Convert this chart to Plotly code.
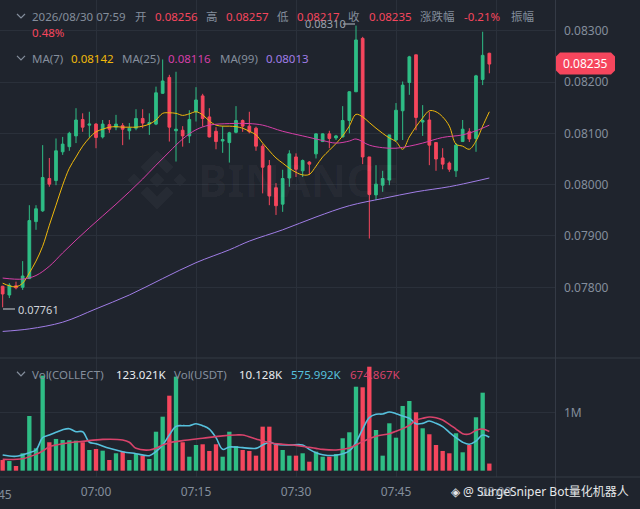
import plotly.graph_objects as go

day = "2026-08-30 "
times = ["06:46", "06:47", "06:48", "06:49", "06:50", "06:51", "06:52", "06:53", "06:54", "06:55",
         "06:56", "06:57", "06:58", "06:59", "07:00", "07:01", "07:02", "07:03", "07:04", "07:05",
         "07:06", "07:07", "07:08", "07:09", "07:10", "07:11", "07:12", "07:13", "07:14", "07:15",
         "07:16", "07:17", "07:18", "07:19", "07:20", "07:21", "07:22", "07:23", "07:24", "07:25",
         "07:26", "07:27", "07:28", "07:29", "07:30", "07:31", "07:32", "07:33", "07:34", "07:35",
         "07:36", "07:37", "07:38", "07:39", "07:40", "07:41", "07:42", "07:43", "07:44", "07:45",
         "07:46", "07:47", "07:48", "07:49", "07:50", "07:51", "07:52", "07:53", "07:54", "07:55",
         "07:56", "07:57", "07:58", "07:59"]

open_ = [0.07802, 0.07785, 0.07803, 0.07800, 0.07817, 0.07928, 0.07949, 0.08012, 0.08008, 0.08064,
         0.08074, 0.08095, 0.08127, 0.08116, 0.08118, 0.08093, 0.08117, 0.08112, 0.08115, 0.08105,
         0.08110, 0.08129, 0.08118, 0.08118, 0.08178, 0.08209, 0.08105, 0.08106, 0.08095, 0.08142,
         0.08173, 0.08132, 0.08104, 0.08085, 0.08082, 0.08102, 0.08125, 0.08114, 0.08110, 0.08075,
         0.08037, 0.07994, 0.07962, 0.08013, 0.08054, 0.08027, 0.08044, 0.08060, 0.08084, 0.08099,
         0.08091, 0.08093, 0.08125, 0.08181, 0.08285, 0.08054, 0.07980, 0.07999, 0.08009, 0.08087,
         0.08144, 0.08199, 0.08253, 0.08122, 0.08126, 0.08082, 0.08052, 0.08042, 0.08027, 0.08084,
         0.08103, 0.08090, 0.08205, 0.08256]
high = [0.07803, 0.07808, 0.07811, 0.07851, 0.07960, 0.07960, 0.08077, 0.08052, 0.08090, 0.08093,
        0.08103, 0.08149, 0.08139, 0.08142, 0.08120, 0.08126, 0.08126, 0.08136, 0.08120, 0.08120,
        0.08147, 0.08147, 0.08139, 0.08191, 0.08244, 0.08214, 0.08220, 0.08114, 0.08145, 0.08190,
        0.08177, 0.08149, 0.08112, 0.08114, 0.08103, 0.08153, 0.08127, 0.08142, 0.08113, 0.08079,
        0.08048, 0.08003, 0.08029, 0.08067, 0.08061, 0.08049, 0.08046, 0.08100, 0.08100, 0.08105,
        0.08097, 0.08153, 0.08182, 0.08310, 0.08288, 0.08054, 0.08038, 0.08027, 0.08097, 0.08159,
        0.08201, 0.08251, 0.08253, 0.08155, 0.08142, 0.08082, 0.08071, 0.08045, 0.08081, 0.08126,
        0.08110, 0.08214, 0.08298, 0.08257]
low = [0.07761, 0.07779, 0.07796, 0.07795, 0.07816, 0.07912, 0.07947, 0.07996, 0.07999, 0.08058,
       0.08066, 0.08081, 0.08103, 0.08092, 0.08071, 0.08090, 0.08101, 0.08106, 0.08077, 0.08088,
       0.08106, 0.08110, 0.08097, 0.08116, 0.08177, 0.08084, 0.08045, 0.08074, 0.08081, 0.08123,
       0.08113, 0.08092, 0.08069, 0.08062, 0.08043, 0.08100, 0.08103, 0.08100, 0.08066, 0.07983,
       0.07960, 0.07941, 0.07947, 0.07996, 0.08015, 0.08015, 0.08019, 0.08051, 0.08083, 0.08071,
       0.08087, 0.08092, 0.08100, 0.08181, 0.08040, 0.07895, 0.07970, 0.07986, 0.07999, 0.08084,
       0.08087, 0.08175, 0.08106, 0.08095, 0.08038, 0.08027, 0.08030, 0.08025, 0.08015, 0.08084,
       0.08083, 0.08064, 0.08194, 0.08217]
close = [0.07787, 0.07804, 0.07799, 0.07822, 0.07930, 0.07953, 0.08014, 0.08001, 0.08066, 0.08079,
         0.08100, 0.08126, 0.08112, 0.08118, 0.08092, 0.08118, 0.08108, 0.08118, 0.08108, 0.08110,
         0.08129, 0.08120, 0.08121, 0.08179, 0.08202, 0.08112, 0.08108, 0.08095, 0.08127, 0.08165,
         0.08129, 0.08093, 0.08084, 0.08088, 0.08101, 0.08125, 0.08114, 0.08103, 0.08075, 0.08034,
         0.07978, 0.07959, 0.08012, 0.08060, 0.08030, 0.08047, 0.08040, 0.08099, 0.08099, 0.08090,
         0.08095, 0.08125, 0.08181, 0.08282, 0.08054, 0.07981, 0.08001, 0.08012, 0.08097, 0.08145,
         0.08194, 0.08249, 0.08131, 0.08125, 0.08077, 0.08050, 0.08040, 0.08030, 0.08077, 0.08108,
         0.08089, 0.08212, 0.08252, 0.08235]

ma7 = [0.07808, 0.07803, 0.07801, 0.07808, 0.07828, 0.07851, 0.07880, 0.07921, 0.07960, 0.07999,
       0.08032, 0.08054, 0.08075, 0.08091, 0.08103, 0.08108, 0.08112, 0.08113, 0.08112, 0.08112,
       0.08112, 0.08114, 0.08118, 0.08126, 0.08139, 0.08140, 0.08139, 0.08135, 0.08138, 0.08142,
       0.08136, 0.08124, 0.08116, 0.08114, 0.08114, 0.08113, 0.08110, 0.08104, 0.08097, 0.08081,
       0.08066, 0.08052, 0.08042, 0.08032, 0.08024, 0.08019, 0.08020, 0.08036, 0.08054, 0.08067,
       0.08080, 0.08095, 0.08114, 0.08137, 0.08132, 0.08121, 0.08110, 0.08100, 0.08091, 0.08084,
       0.08069, 0.08093, 0.08113, 0.08130, 0.08144, 0.08142, 0.08132, 0.08114, 0.08079, 0.08075,
       0.08069, 0.08085, 0.08114, 0.08142]

ma25_at = ["06:46", "06:49", "06:51", "06:53", "06:55", "06:57", "06:59", "07:01", "07:03", "07:05",
           "07:07", "07:09", "07:11", "07:13", "07:15", "07:17", "07:20", "07:23", "07:25", "07:28",
           "07:31", "07:34", "07:36", "07:38", "07:39", "07:41", "07:43", "07:45", "07:47", "07:49",
           "07:52", "07:55", "07:57", "07:59"]
ma25 = [0.07818, 0.07816, 0.07823, 0.07841, 0.07867, 0.07892, 0.07916, 0.07939, 0.07962, 0.07986,
        0.08011, 0.08038, 0.08064, 0.08089, 0.08107, 0.08116, 0.08119, 0.08119, 0.08116, 0.08104,
        0.08095, 0.08086, 0.08081, 0.08085, 0.08089, 0.08077, 0.08072, 0.08071, 0.08075, 0.08081,
        0.08092, 0.08097, 0.08105, 0.08116]

ma99_at = ["06:46", "06:50", "06:55", "07:00", "07:05", "07:10", "07:15", "07:20", "07:23", "07:28",
           "07:33", "07:38", "07:43", "07:48", "07:53", "07:57", "07:59"]
ma99 = [0.07714, 0.07719, 0.07732, 0.07758, 0.07785, 0.07817, 0.07848, 0.07873, 0.07890, 0.07912,
        0.07937, 0.07959, 0.07973, 0.07986, 0.07996, 0.08007, 0.08013]

# volume in thousands (COLLECT)
vol_k = [184, 167, 81, 300, 943, 386, 1638, 490, 547, 529,
         524, 518, 490, 357, 374, 345, 184, 300, 328, 184,
         288, 259, 202, 672, 931, 1293, 1621, 490, 241, 443,
         455, 340, 455, 241, 672, 426, 357, 340, 259, 759,
         759, 443, 357, 259, 259, 300, 155, 328, 241, 241,
         288, 559, 662, 1448, 1438, 1793, 702, 259, 817, 569,
         1116, 1202, 1007, 731, 628, 443, 340, 300, 645, 317,
         443, 921, 1345, 123]

vma5_at = ["06:46", "06:48", "06:50", "06:51", "06:52", "06:53", "06:54", "06:55", "06:56", "06:57",
           "06:58", "06:59", "07:00", "07:02", "07:04", "07:06", "07:08", "07:09", "07:10", "07:11",
           "07:12", "07:13", "07:14", "07:15", "07:16", "07:17", "07:18", "07:19", "07:20", "07:22",
           "07:24", "07:25", "07:26", "07:27", "07:29", "07:31", "07:32", "07:33", "07:34", "07:36",
           "07:38", "07:39", "07:40", "07:41", "07:42", "07:43", "07:44", "07:45", "07:46", "07:47",
           "07:48", "07:49", "07:50", "07:51", "07:52", "07:53", "07:54", "07:55", "07:56", "07:57",
           "07:58", "07:59"]
vma5 = [271, 248, 310, 357, 569, 615, 662, 707, 724, 672,
        672, 490, 466, 385, 328, 293, 259, 328, 443, 615,
        764, 776, 776, 810, 776, 718, 569, 368, 408, 397,
        385, 443, 490, 455, 443, 443, 368, 310, 276, 265,
        340, 490, 718, 914, 972, 978, 1012, 983, 943, 903,
        810, 816, 856, 816, 759, 662, 569, 490, 455, 512,
        615, 576]

vma10_at = ["06:46", "06:49", "06:51", "06:52", "06:53", "06:54", "06:56", "06:58", "07:01", "07:04",
            "07:05", "07:06", "07:08", "07:09", "07:10", "07:11", "07:13", "07:16", "07:19", "07:21",
            "07:22", "07:24", "07:25", "07:26", "07:28", "07:30", "07:32", "07:33", "07:34", "07:36",
            "07:38", "07:40", "07:42", "07:44", "07:45", "07:47", "07:48", "07:49", "07:50", "07:51",
            "07:52", "07:53", "07:54", "07:55", "07:56", "07:57", "07:58", "07:59"]
vma10 = [195, 207, 282, 340, 414, 443, 483, 506, 540, 529,
         490, 385, 357, 385, 443, 483, 518, 559, 600, 615,
         615, 547, 512, 483, 455, 437, 402, 385, 368, 357,
         391, 501, 592, 638, 678, 782, 874, 903, 926, 914,
         874, 799, 718, 638, 632, 695, 718, 675]

time_ticks = ["07:00", "07:15", "07:30", "07:45", "08:00"]
price_ticks = [0.07800, 0.07900, 0.08000, 0.08100, 0.08200, 0.08300]

UP = "#2ebd85"
DOWN = "#f6465d"
BG = "#1f242d"
GRID = "#2a303a"
EDGE = "#343a45"
GREY = "#848e9c"
FONT = "Noto Sans, Noto Sans CJK SC, sans-serif"

# pixel helpers: plot area is 555 x 477 px
W, H = 555.0, 477.0


def X(p):
    return p / W


def Y(p):
    return (H - p) / H


def path(points, close_it=True):
    s = "M " + " L ".join("%.5f,%.5f" % (X(a), Y(b)) for a, b in points)
    return s + (" Z" if close_it else "")


xt = [day + t for t in times]

fig = go.Figure()

fig.add_trace(go.Candlestick(
    x=xt, open=open_, high=high, low=low, close=close,
    increasing=dict(line=dict(color=UP, width=1), fillcolor=UP),
    decreasing=dict(line=dict(color=DOWN, width=1), fillcolor=DOWN),
    whiskerwidth=0, showlegend=False, hoverinfo="skip", yaxis="y"))

fig.add_trace(go.Scatter(x=xt, y=ma7, mode="lines", line=dict(color="#f0b90b", width=1, shape="spline"),
                         showlegend=False, hoverinfo="skip", yaxis="y"))
fig.add_trace(go.Scatter(x=[day + t for t in ma25_at], y=ma25, mode="lines",
                         line=dict(color="#d63fa8", width=1, shape="spline"),
                         showlegend=False, hoverinfo="skip", yaxis="y"))
fig.add_trace(go.Scatter(x=[day + t for t in ma99_at], y=ma99, mode="lines",
                         line=dict(color="#a07de6", width=1, shape="spline"),
                         showlegend=False, hoverinfo="skip", yaxis="y"))

bar_colors = [UP if c >= o else DOWN for o, c in zip(open_, close)]
fig.add_trace(go.Bar(x=xt, y=vol_k, marker=dict(color=bar_colors, line=dict(width=0)),
                     showlegend=False, hoverinfo="skip", yaxis="y2"))
fig.add_trace(go.Scatter(x=[day + t for t in vma5_at], y=vma5, mode="lines",
                         line=dict(color="#56c0dc", width=1.6, shape="spline"),
                         showlegend=False, hoverinfo="skip", yaxis="y2"))
fig.add_trace(go.Scatter(x=[day + t for t in vma10_at], y=vma10, mode="lines",
                         line=dict(color="#d8436b", width=1.6, shape="spline"),
                         showlegend=False, hoverinfo="skip", yaxis="y2"))

split = (H - 358) / H

fig.update_layout(
    width=640, height=509,
    margin=dict(l=0, r=85, t=0, b=32),
    paper_bgcolor=BG, plot_bgcolor=BG,
    font=dict(family=FONT, size=12, color=GREY),
    boxgap=0.42, bargap=0.35,
    xaxis=dict(type="date", anchor="y2",
               range=[day + "06:45:36", day + "08:08:51"],
               tickvals=[day + t for t in time_ticks], ticktext=time_ticks,
               showgrid=True, gridcolor=GRID, gridwidth=1, zeroline=False,
               showline=False, ticks="", ticklabelstandoff=6,
               tickfont=dict(size=12, color=GREY),
               rangeslider=dict(visible=False), fixedrange=True),
    yaxis=dict(domain=[split, 1], side="right",
               range=[0.0766223, 0.0835982],
               tickvals=price_ticks, ticktext=["%.5f" % v for v in price_ticks],
               showgrid=True, gridcolor=GRID, zeroline=False, showline=False,
               ticks="", ticklabelstandoff=8, tickfont=dict(size=12, color=GREY)),
    yaxis2=dict(domain=[0, split], side="right",
                range=[-109, 1943],
                tickvals=[1000], ticktext=["1M"],
                showgrid=True, gridcolor=GRID, zeroline=False, showline=False,
                ticks="", ticklabelstandoff=8, tickfont=dict(size=12, color=GREY)),
)

shapes = []
# panel frame lines
shapes.append(dict(type="line", xref="paper", yref="paper", x0=0, x1=X(640), y0=Y(358), y1=Y(358),
                   line=dict(color=EDGE, width=1)))
shapes.append(dict(type="line", xref="paper", yref="paper", x0=0, x1=X(640), y0=Y(477), y1=Y(477),
                   line=dict(color=EDGE, width=1)))
shapes.append(dict(type="line", xref="paper", yref="paper", x0=X(555.5), x1=X(555.5), y0=Y(509), y1=1,
                   line=dict(color=EDGE, width=1)))

# binance watermark logo
cx, cy, k = 157, 180, 0.82
logo = [
    [(0, -9), (9, 0), (0, 9), (-9, 0)],
    [(-28, -8), (-20, 0), (-28, 8), (-36, 0)],
    [(28, -8), (36, 0), (28, 8), (20, 0)],
    [(0, -36), (20, -16), (12, -8), (0, -20), (-12, -8), (-20, -16)],
    [(0, 36), (20, 16), (12, 8), (0, 20), (-12, 8), (-20, 16)],
]
for poly in logo:
    shapes.append(dict(type="path", xref="paper", yref="paper", layer="below",
                       path=path([(cx + k * a, cy + k * b) for a, b in poly]),
                       fillcolor="rgba(255,255,255,0.035)", line=dict(width=0)))

# chevrons
for yy in (16.5, 58.3, 374.3):
    shapes.append(dict(type="path", xref="paper", yref="paper",
                       path=path([(17, yy - 2.5), (21, yy + 1.5), (25, yy - 2.5)], close_it=False),
                       line=dict(color=GREY, width=1.2)))

# max / min markers
shapes.append(dict(type="line", xref="paper", yref="paper", x0=X(343), x1=X(355), y0=Y(24), y1=Y(24),
                   line=dict(color="#b7bdc6", width=1)))
shapes.append(dict(type="line", xref="paper", yref="paper", x0=X(3), x1=X(15), y0=Y(309), y1=Y(309),
                   line=dict(color="#d0d4da", width=1)))

# current price tag (rounded)
x0, x1, y0, y1, r = 556, 615, 52.5, 74.5, 4
tag = [(x0 + r, y0), (x1 - r, y0), (x1, y0 + r), (x1, y1 - r), (x1 - r, y1), (x0 + r, y1), (x0, y1 - r), (x0, y0 + r)]
shapes.append(dict(type="path", xref="paper", yref="paper", path=path(tag),
                   fillcolor=DOWN, line=dict(width=0)))

fig.update_layout(shapes=shapes)

ann = []


def label(text, color, x, y, size=11.5, anchor="left", **kw):
    ann.append(dict(text=text, x=X(x), y=Y(y), xref="paper", yref="paper", showarrow=False,
                    xanchor=anchor, yanchor="middle", borderpad=0, borderwidth=0,
                    font=dict(family=FONT, size=size, color=color, **kw)))


RED = "#f6465d"
WHITE = "#eaecef"
header = [("2026/08/30 07:59", GREY, 31.5), ("开", GREY, 135), ("0.08256", RED, 155),
          ("高", GREY, 206), ("0.08257", RED, 226), ("低", GREY, 277), ("0.08217", RED, 297),
          ("收", GREY, 348), ("0.08235", RED, 369), ("涨跌幅", GREY, 420), ("-0.21%", RED, 464),
          ("振幅", GREY, 511)]
for t, c, x in header:
    label(t, c, x, 16.5)
label("0.48%", RED, 31.5, 32.5)

ma_line = [("MA(7)", GREY, 31.5), ("0.08142", "#f0b90b", 71), ("MA(25)", GREY, 122),
           ("0.08116", "#d63fa8", 168), ("MA(99)", GREY, 220), ("0.08013", "#a07de6", 266)]
for t, c, x in ma_line:
    label(t, c, x, 58.3)

vol_line = [("Vol(COLLECT)", GREY, 31.5), ("123.021K", WHITE, 116), ("Vol(USDT)", GREY, 174),
            ("10.128K", WHITE, 239), ("575.992K", "#56c0dc", 291), ("674.867K", "#d8436b", 350)]
for t, c, x in vol_line:
    label(t, c, x, 374.3)

label("0.08310", "#9aa1ab", 305, 24, size=11)
label("0.07761", "#d0d4da", 18, 309, size=11)
label("0.08235", "#ffffff", 585.5, 63.5, size=12, anchor="center")
label("06:45", GREY, -4, 494, size=12, anchor="center")
label("BINANCE", "rgba(255,255,255,0.035)", 198, 180, size=44, weight="bold")
label("◈ @ SurgeSniper Bot量化机器人", "#e6e8ea", 451, 491, size=12)

fig.update_layout(annotations=ann)

fig.write_html("out.html", config={"displayModeBar": False},
               post_script="document.body.style.margin='0';")
